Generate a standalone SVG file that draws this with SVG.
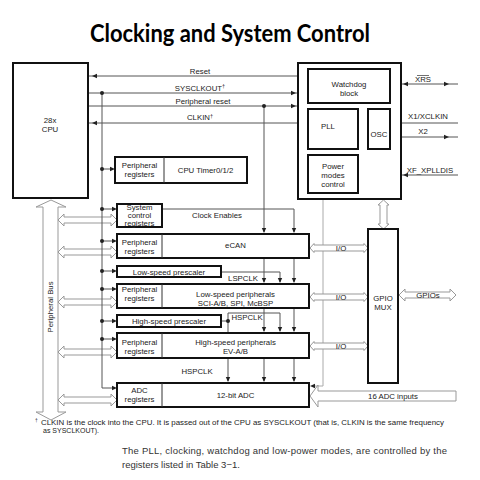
<svg xmlns="http://www.w3.org/2000/svg" xmlns:xlink="http://www.w3.org/1999/xlink" width="480" height="480" viewBox="0 0 480 480">
<style>
.box{fill:#fff;stroke:#111;stroke-width:2}
.dv{stroke:#333;stroke-width:1}
.sig{stroke:#555;stroke-width:1;fill:none}
.gry{stroke:#aaa;stroke-width:1;fill:none}
.hol{fill:#fff;stroke:#999;stroke-width:1}
.ah{fill:#222}
.dot{fill:#222}
text{font-family:"Liberation Sans",Arial,sans-serif;fill:#222}
.t{font-size:7.8px;text-anchor:middle}
</style>
<defs>
<path id="aR" class="ah" d="M0,0 L-5,-2.2 L-5,2.2Z"/>
<path id="aL" class="ah" d="M0,0 L5,-2.2 L5,2.2Z"/>
<path id="aD" class="ah" d="M0,0 L-2.2,-5 L2.2,-5Z"/>
</defs>
<rect width="480" height="480" fill="#fff"/>
<text x="230" y="42" font-weight="bold" font-size="25" text-anchor="middle" textLength="280" lengthAdjust="spacingAndGlyphs" style="fill:#000;font-family:Lato,'Liberation Sans',sans-serif">Clocking and System Control</text>

<g id="peripheral-bus">
<path class="hol" d="M51,200 L66,207 L58,207 L58,412 L66,412 L51,420 L36,412 L43,412 L43,207 L36,207Z"/>
<text class="t" transform="translate(53,307) rotate(-90)">Peripheral Bus</text>
<path class="hol" d="M58,220 L64,214 L64,217 L111,217 L111,214 L117,220 L111,226 L111,223 L64,223 L64,226Z"/>
<path class="hol" d="M58,252 L64,246 L64,249 L111,249 L111,246 L117,252 L111,258 L111,255 L64,255 L64,258Z"/>
<path class="hol" d="M58,302 L64,296 L64,299 L111,299 L111,296 L117,302 L111,308 L111,305 L64,305 L64,308Z"/>
<path class="hol" d="M58,352 L64,346 L64,349 L111,349 L111,346 L117,352 L111,358 L111,355 L64,355 L64,358Z"/>
<path class="hol" d="M58,400 L64,394 L64,397 L111,397 L111,394 L117,400 L111,406 L111,403 L64,403 L64,406Z"/>
</g>

<g id="connectors">
<line class="sig" x1="88" y1="76" x2="298" y2="76"/><use href="#aL" x="92" y="76"/>
<text class="t" x="200" y="74">Reset</text>
<line class="sig" x1="88" y1="93" x2="298" y2="93"/><use href="#aR" x="296" y="93"/>
<text class="t" x="200" y="90.5">SYSCLKOUT<tspan font-size="5.5" dy="-2.5">†</tspan></text>
<line class="sig" x1="88" y1="106" x2="298" y2="106"/><use href="#aR" x="296" y="106"/>
<text class="t" x="203" y="104">Peripheral reset</text>
<line class="sig" x1="88" y1="123" x2="298" y2="123"/><use href="#aL" x="92" y="123"/>
<text class="t" x="200" y="120">CLKIN<tspan font-size="5.5" dy="-2.5">†</tspan></text>
<line class="sig" x1="401" y1="84" x2="458" y2="84"/><use href="#aL" x="403" y="84"/><use href="#aR" x="449" y="84"/>
<text class="t" x="423" y="82">XRS</text><line x1="417" y1="75.5" x2="429" y2="75.5" stroke="#333" stroke-width="0.7"/>
<line class="sig" x1="390" y1="123" x2="458" y2="123"/><use href="#aL" x="392" y="123"/>
<text class="t" x="428" y="119">X1/XCLKIN</text>
<line class="sig" x1="390" y1="137" x2="458" y2="137"/><use href="#aR" x="449" y="137"/>
<text class="t" x="423" y="133.5">X2</text>
<line class="sig" x1="401" y1="175" x2="458" y2="175"/><use href="#aL" x="403" y="175"/>
<text class="t" x="430" y="172.5">XF_XPLLDIS</text>
<polyline class="sig" points="102,93 102,388 115,388"/><use href="#aR" x="117" y="388"/>
<circle class="dot" cx="102" cy="93" r="2"/>
<line class="sig" x1="102" y1="169" x2="113" y2="169"/><use href="#aR" x="115" y="169"/><circle class="dot" cx="102" cy="169" r="2"/>
<line class="sig" x1="102" y1="209" x2="115" y2="209"/><use href="#aR" x="117" y="209"/><circle class="dot" cx="102" cy="209" r="2"/>
<line class="sig" x1="102" y1="241" x2="115" y2="241"/><use href="#aR" x="117" y="241"/><circle class="dot" cx="102" cy="241" r="2"/>
<line class="sig" x1="102" y1="271" x2="115" y2="271"/><use href="#aR" x="117" y="271"/><circle class="dot" cx="102" cy="271" r="2"/>
<line class="sig" x1="102" y1="289" x2="115" y2="289"/><use href="#aR" x="117" y="289"/><circle class="dot" cx="102" cy="289" r="2"/>
<line class="sig" x1="102" y1="321" x2="115" y2="321"/><use href="#aR" x="117" y="321"/><circle class="dot" cx="102" cy="321" r="2"/>
<line class="sig" x1="102" y1="339" x2="115" y2="339"/><use href="#aR" x="117" y="339"/><circle class="dot" cx="102" cy="339" r="2"/>
<line class="sig" x1="264" y1="106" x2="264" y2="232"/><use href="#aD" x="264" y="233"/>
<circle class="dot" cx="264" cy="106" r="2"/>
<polyline class="sig" points="162,209 294,209 294,232"/><use href="#aD" x="294" y="233"/>
<text class="t" x="217" y="217.5">Clock Enables</text>
<line class="sig" x1="264" y1="258" x2="264" y2="282"/><use href="#aD" x="264" y="283"/>
<line class="sig" x1="294" y1="258" x2="294" y2="282"/><use href="#aD" x="294" y="283"/>
<polyline class="sig" points="221,272 280,272 280,282"/><use href="#aD" x="280" y="283"/>
<text class="t" x="243" y="281">LSPCLK</text>
<line class="sig" x1="264" y1="308" x2="264" y2="331"/><use href="#aD" x="264" y="332"/>
<line class="sig" x1="294" y1="308" x2="294" y2="331"/><use href="#aD" x="294" y="332"/>
<polyline class="sig" points="221,321 228,321 228,313 280,313 280,331"/><use href="#aD" x="280" y="332"/>
<line class="sig" x1="228" y1="321" x2="228" y2="333"/>
<circle class="dot" cx="228" cy="321" r="2"/>
<text class="t" x="247" y="320">HSPCLK</text>
<line class="sig" x1="228" y1="358" x2="228" y2="381"/><use href="#aD" x="228" y="382"/>
<line class="sig" x1="264" y1="358" x2="264" y2="381"/><use href="#aD" x="264" y="382"/>
<line class="sig" x1="294" y1="358" x2="294" y2="381"/><use href="#aD" x="294" y="382"/>
<text class="t" x="197" y="373.5">HSPCLK</text>
<polyline class="gry" points="323,199 323,386 312,386"/><use href="#aL" x="310" y="386"/>
<path class="hol" d="M310,248 L314,243.5 L314,245 L364,245 L364,243.5 L368,248 L364,252.5 L364,251 L314,251 L314,252.5Z"/>
<text class="t" x="341" y="250.5">I/O</text>
<path class="hol" d="M310,297 L314,292.5 L314,294 L364,294 L364,292.5 L368,297 L364,301.5 L364,300 L314,300 L314,301.5Z"/>
<text class="t" x="341" y="299.5">I/O</text>
<path class="hol" d="M310,346 L314,341.5 L314,343 L364,343 L364,341.5 L368,346 L364,350.5 L364,349 L314,349 L314,350.5Z"/>
<text class="t" x="341" y="348.5">I/O</text>
<path class="hol" d="M383.5,200 L389,205 L387,205 L387,224 L389,224 L383.5,229 L378,224 L380,224 L380,205 L378,205Z"/>
<path class="hol" d="M399,295 L405,289 L405,292 L450,292 L450,289 L456,295 L450,301 L450,298 L405,298 L405,301Z"/>
<text class="t" x="428" y="297.5">GPIOs</text>
<path class="hol" d="M310,396 L318,385 L318,391 L456,391 L456,401 L318,401 L318,407Z"/>
<text class="t" x="393" y="399">16 ADC inputs</text>
</g>

<g id="cpu">
<rect class="box" x="13" y="63" width="75" height="135"/>
<text class="t" x="50" y="123">28x</text>
<text class="t" x="50" y="132">CPU</text>
</g>
<g id="system-block">
<rect class="box" x="298" y="63" width="103" height="136"/>
</g>
<g id="watchdog">
<rect class="box" x="308" y="69" width="82" height="34"/>
<text class="t" x="349" y="87">Watchdog</text>
<text class="t" x="349" y="96">block</text>
</g>
<g id="pll">
<rect class="box" x="308" y="109" width="50" height="40"/>
<text class="t" x="328" y="129">PLL</text>
</g>
<g id="osc">
<rect class="box" x="368" y="109" width="22" height="40"/>
<text class="t" x="379" y="137">OSC</text>
</g>
<g id="power">
<rect class="box" x="308" y="155" width="50" height="38"/>
<text class="t" x="333" y="169">Power</text>
<text class="t" x="333" y="178">modes</text>
<text class="t" x="333" y="187">control</text>
</g>
<g id="cpu-timer">
<rect class="box" x="115" y="157" width="132" height="26"/>
<line class="dv" x1="164" y1="157" x2="164" y2="183"/>
<text class="t" x="139.5" y="168">Peripheral</text>
<text class="t" x="139.5" y="177">registers</text>
<text class="t" x="205.5" y="173">CPU Timer0/1/2</text>
</g>
<g id="sysctrl">
<rect class="box" x="117" y="204" width="45" height="23"/>
<text class="t" x="139.5" y="209.5">System</text>
<text class="t" x="139.5" y="217.5">control</text>
<text class="t" x="139.5" y="225.5">registers</text>
</g>
<g id="ecan">
<rect class="box" x="117" y="234" width="192" height="24"/>
<line class="dv" x1="162" y1="234" x2="162" y2="258"/>
<text class="t" x="139.5" y="245">Peripheral</text>
<text class="t" x="139.5" y="254">registers</text>
<text class="t" x="235.5" y="248">eCAN</text>
</g>
<g id="ls-prescaler">
<rect class="box" x="117" y="266" width="104" height="11"/>
<text class="t" x="169" y="274.5">Low-speed prescaler</text>
</g>
<g id="ls-periph">
<rect class="box" x="117" y="284" width="192" height="24"/>
<line class="dv" x1="162" y1="284" x2="162" y2="308"/>
<text class="t" x="139.5" y="292">Peripheral</text>
<text class="t" x="139.5" y="301">registers</text>
<text class="t" x="235.5" y="297">Low-speed peripherals</text>
<text class="t" x="235.5" y="305.5">SCI-A/B, SPI, McBSP</text>
</g>
<g id="hs-prescaler">
<rect class="box" x="117" y="315" width="104" height="12"/>
<text class="t" x="169" y="324">High-speed prescaler</text>
</g>
<g id="hs-periph">
<rect class="box" x="117" y="333" width="192" height="25"/>
<line class="dv" x1="162" y1="333" x2="162" y2="358"/>
<text class="t" x="139.5" y="344.5">Peripheral</text>
<text class="t" x="139.5" y="354">registers</text>
<text class="t" x="235.5" y="344.5">High-speed peripherals</text>
<text class="t" x="235.5" y="353.5">EV-A/B</text>
</g>
<g id="adc">
<rect class="box" x="117" y="383" width="192" height="24"/>
<line class="dv" x1="162" y1="383" x2="162" y2="407"/>
<text class="t" x="139.5" y="392.5">ADC</text>
<text class="t" x="139.5" y="401.5">registers</text>
<text class="t" x="235.5" y="397.5">12-bit ADC</text>
</g>
<g id="gpio-mux">
<rect class="box" x="368" y="229" width="30" height="154"/>
<text class="t" x="383" y="301">GPIO</text>
<text class="t" x="383" y="310">MUX</text>
</g>
<g id="notes">
<text x="35" y="422" font-size="5">†</text>
<text x="41" y="425" font-size="7" textLength="403" lengthAdjust="spacingAndGlyphs">CLKIN is the clock into the CPU. It is passed out of the CPU as SYSCLKOUT (that is, CLKIN is the same frequency</text>
<text x="43" y="433" font-size="7">as SYSCLKOUT).</text>
<text x="122" y="454" font-size="9.5" textLength="325" lengthAdjust="spacing" style="fill:#333">The PLL, clocking, watchdog and low-power modes, are controlled by the</text>
<text x="122" y="468" font-size="9.5" style="fill:#333">registers listed in Table 3−1.</text>
</g>
</svg>
